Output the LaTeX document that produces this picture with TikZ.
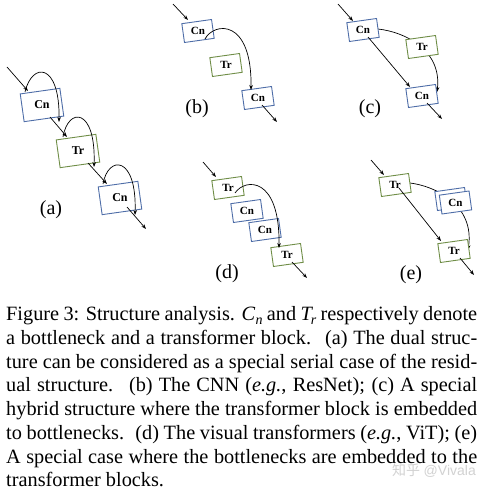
\documentclass[tikz,border=0pt]{standalone}
\usepackage{fontspec}
\setmainfont{Liberation Serif}
\newfontfamily\cjkfont{Noto Sans CJK SC}
\newfontfamily\wmsans{Liberation Sans}
\usetikzlibrary{arrows.meta,calc}
\pgfdeclarelayer{bg}
\pgfdeclarelayer{paper}
\pgfsetlayers{paper,bg,main}
\definecolor{cnblue}{RGB}{79,110,168}
\definecolor{trgreen}{RGB}{112,142,72}
\newcommand{\capline}[1]{\makebox[471pt][s]{#1}}
\newcommand{\Cnm}{{\itshape C}\kern0.5pt\raisebox{-0.35ex}{\fontsize{14}{14}\selectfont\itshape n}}
\newcommand{\Trm}{{\itshape T}\kern-1pt\raisebox{-0.35ex}{\fontsize{14}{14}\selectfont\itshape r}}
\begin{document}
\begin{tikzpicture}[x=1pt,y=-1pt,
  box/.style={draw, fill=white, line width=0.9pt, rotate=8, inner sep=0pt},
  bigbox/.style={box, minimum width=40pt, minimum height=28pt},
  smallbox/.style={box, minimum width=30pt, minimum height=19pt},
  cn/.style={draw=cnblue},
  tr/.style={draw=trgreen},
  lbl/.style={font=\fontsize{11}{12}\selectfont\bfseries, inner sep=0pt},
  biglbl/.style={font=\fontsize{12}{13}\selectfont\bfseries, inner sep=0pt},
  arr/.style={line width=0.7pt, -{Stealth[length=5pt,width=3.6pt]}},
  sub/.style={font=\fontsize{20}{24}\selectfont, inner sep=0pt},
]
\begin{pgfonlayer}{paper}
\fill[white] (0,0) rectangle (486,492);
\end{pgfonlayer}
\useasboundingbox (0,0) rectangle (486,492);

% ---------------- (a)
\node[bigbox,cn] (a1) at (42,105) {};
\node[biglbl] (a1t) at (a1) {Cn};
\node[bigbox,tr] (a2) at (78,151) {};
\node[biglbl] (a2t) at (a2) {Tr};
\node[bigbox,cn] (a3) at (120,198) {};
\node[biglbl] (a3t) at (a3) {Cn};
\coordinate (ain) at (7,67);
\coordinate (aout) at (146,229);
\node[sub] (la) at (51,210) {(a)};
\draw[arr] (ain) -- ($(a1)+(-14,-14)$);
\draw[arr] ($(a1)+(-17,-13)$) .. controls ($(a1)+(-10,-43)$) and ($(a1)+(18,-43)$) .. ($(a1)+(17,17)$);
\draw[arr] ($(a1)+(8,12)$) -- ($(a2)+(-11,-14)$);
\draw[arr] ($(a2)+(-15,-14)$) .. controls ($(a2)+(-10,-44)$) and ($(a2)+(18,-44)$) .. ($(a2)+(16,16)$);
\draw[arr] ($(a2)+(10,12)$) -- ($(a3)+(-13,-14)$);
\draw[arr] ($(a3)+(-17,-14)$) .. controls ($(a3)+(-12,-43)$) and ($(a3)+(17,-43)$) .. ($(a3)+(15,17)$);
\draw[arr] ($(a3)+(7,9)$) -- (aout);

% ---------------- (b)
\node[smallbox,cn] (b1) at (198,31) {};
\node[lbl] (b1t) at (b1) {Cn};
\node[smallbox,tr] (bt) at (226,65) {};
\node[lbl] (btt) at (bt) {Tr};
\node[smallbox,cn] (b2) at (258,98) {};
\node[lbl] (b2t) at (b2) {Cn};
\coordinate (bin) at (173,4);
\coordinate (bout) at (277,122);
\node[sub] (lb) at (197,109) {(b)};
\draw[arr] (bin) -- ($(b1)+(-10,-11)$);
\draw[arr] ($(b1)+(7,8)$) .. controls ($(b1)+(16,-9)$) and ($(b2)+(-6,-80)$) .. ($(b2)+(-7,-8)$);
\draw[arr] ($(b2)+(4,7)$) -- (bout);

% ---------------- (c)
\node[smallbox,cn] (c1) at (363,30) {};
\node[lbl] (c1t) at (c1) {Cn};
\node[smallbox,tr] (ct) at (422,47) {};
\node[lbl] (ctt) at (ct) {Tr};
\node[smallbox,cn] (c2) at (422,96) {};
\node[lbl] (c2t) at (c2) {Cn};
\coordinate (cin) at (338,4);
\coordinate (cout) at (442,119);
\node[sub] (lc) at (370,109) {(c)};
\begin{pgfonlayer}{bg}
\draw[arr] ($(c1)+(15,-1)$) .. controls (405,32) and (442,50) .. ($(c2)+(15,-4)$);
\end{pgfonlayer}
\draw[arr] (cin) -- ($(c1)+(-10,-9)$);
\draw[arr] ($(c1)+(5,7)$) -- ($(c2)+(-12,-9)$);
\draw[arr] ($(c2)+(5,7)$) -- (cout);

% ---------------- (d)
\node[smallbox,tr] (d1) at (228,188) {};
\node[lbl] (d1t) at (d1) {Tr};
\node[smallbox,cn] (d2) at (247,211) {};
\node[lbl] (d2t) at (d2) {Cn};
\node[smallbox,cn] (d3) at (265,230) {};
\node[lbl] (d3t) at (d3) {Cn};
\node[smallbox,tr] (d4) at (287,255) {};
\node[lbl] (d4t) at (d4) {Tr};
\coordinate (din) at (203,162);
\coordinate (dout) at (307,278);
\node[sub] (ld) at (227,274) {(d)};
\draw[arr] (din) -- ($(d1)+(-12,-11)$);
\draw[arr] ($(d1)+(7,5)$) .. controls (245,178) and (280,176) .. ($(d4)+(-8,-7)$);
\draw[arr] ($(d4)+(5,7)$) -- (dout);

% ---------------- (e)
\node[smallbox,tr] (e1) at (395,185) {};
\node[lbl] (e1t) at (e1) {Tr};
\node[smallbox,cn] (e2b) at (451,199) {};
\node[smallbox,cn] (e2) at (455.5,202.5) {};
\node[lbl] (e2t) at (e2) {Cn};
\node[smallbox,tr] (e3) at (454,251) {};
\node[lbl] (e3t) at (e3) {Tr};
\coordinate (ein) at (371,160);
\coordinate (eout) at (474,275);
\node[sub] (le) at (411,275) {(e)};
\begin{pgfonlayer}{bg}
\draw[arr] ($(e1)+(15,-2)$) .. controls (435,186) and (475,205) .. ($(e3)+(14,-1)$);
\end{pgfonlayer}
\draw[arr] (ein) -- ($(e1)+(-11,-10)$);
\draw[arr] ($(e1)+(4,3)$) -- ($(e3)+(-13,-10)$);
\draw[arr] ($(e3)+(6,7)$) -- (eout);

% ---------------- caption
\node[anchor=base west, inner sep=0pt, align=left,
      font=\fontsize{20.3}{23.7}\selectfont] (cap) at (6,486.7) {%
\capline{Figure 3: Structure analysis. \Cnm{} and \Trm{} respectively denote}\\
\capline{a bottleneck and a transformer block. \ (a) The dual struc-}\\
\capline{ture can be considered as a special serial case of the resid-}\\
\capline{ual structure. \ (b) The CNN (\textit{e.g.}, ResNet); (c) A special}\\
\capline{hybrid structure where the transformer block is embedded}\\
\capline{to bottlenecks. \ (d) The visual transformers (\textit{e.g.}, ViT); (e)}\\
\capline{A special case where the bottlenecks are embedded to the}\\
transformer blocks.};

\node[anchor=base west, inner sep=0pt, text=gray!35, font=\fontsize{14}{16}\selectfont] (wm) at (392,475) {{\cjkfont 知乎} {\wmsans @Vivala}};
\end{tikzpicture}
\end{document}
